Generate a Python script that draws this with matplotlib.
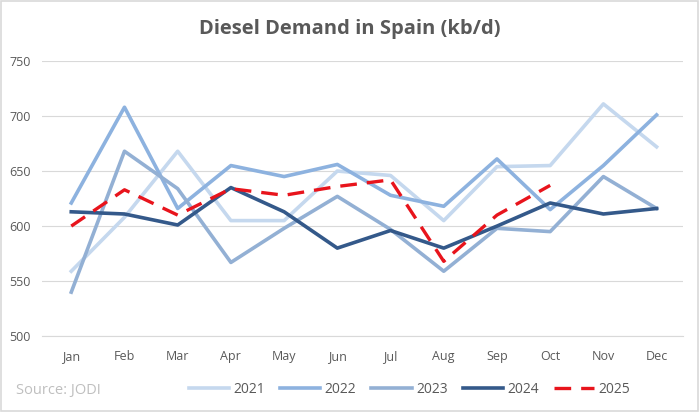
import matplotlib.pyplot as plt
from matplotlib.patches import Rectangle

months = ['Jan', 'Feb', 'Mar', 'Apr', 'May', 'Jun', 'Jul', 'Aug', 'Sep', 'Oct', 'Nov', 'Dec']

y2021 = [559, 608, 668, 605, 605, 650, 646, 605, 654, 655, 711, 672]
y2022 = [621, 708, 616, 655, 645, 656, 628, 618, 661, 615, 655, 701]
y2023 = [540, 668, 634, 567, 598, 627, 597, 559, 598, 595, 645, 616]
y2024 = [613, 611, 601, 635, 613, 580, 596, 580, 600, 621, 611, 616]
y2025 = [600, 633, 610, 634, 628, 636, 642, 568, 610, 637]

yticks = [500, 550, 600, 650, 700, 750]

plt.rcParams['font.family'] = ['Open Sans', 'DejaVu Sans']

fig = plt.figure(figsize=(7, 4.12), dpi=100)
ax = fig.add_axes([0.06, 0.184, 0.916, 0.668])

x = list(range(12))
ax.plot(x, y2021, color='#c5d8ee', lw=2.6, label='2021')
ax.plot(x, y2022, color='#8db2df', lw=2.6, label='2022')
ax.plot(x, y2023, color='#93b0d4', lw=2.6, label='2023')
ax.plot(x, y2024, color='#34598a', lw=2.6, label='2024')
ax.plot(x[:len(y2025)], y2025, color='#e8141c', lw=2.4, dashes=(5, 3), label='2025')

ax.set_xlim(-0.55, 11.5)
ax.set_ylim(500, 750)
ax.set_yticks(yticks)
ax.set_xticks(x)
ax.set_xticklabels(months)
ax.grid(axis='y', color='#d9d9d9', lw=0.8)
ax.set_axisbelow(True)
for s in ['top', 'right', 'left']:
    ax.spines[s].set_visible(False)
ax.spines['bottom'].set_color('#d9d9d9')
ax.tick_params(length=0, colors='#595959', labelsize=9)
ax.tick_params(axis='x', pad=10)
ax.tick_params(axis='y', pad=8)

fig.text(0.5, 0.93, 'Diesel Demand in Spain (kb/d)', ha='center', va='center',
         fontsize=14.5, fontweight='bold', color='#595959')
fig.text(0.023, 0.052, 'Source: JODI', ha='left', va='center', fontsize=10.5, color='#bfbfbf')

leg = fig.legend(loc='center', bbox_to_anchor=(0.585, 0.055), ncol=5, frameon=False,
                 fontsize=10, handlelength=2.9, columnspacing=1.1, handletextpad=0.3)
for t in leg.get_texts():
    t.set_color('#595959')

fig.patches.append(Rectangle((0.002, 0.003), 0.995, 0.994, transform=fig.transFigure,
                             fill=False, edgecolor='#d9d9d9', lw=1.2))

fig.savefig('out.png', dpi=100)
